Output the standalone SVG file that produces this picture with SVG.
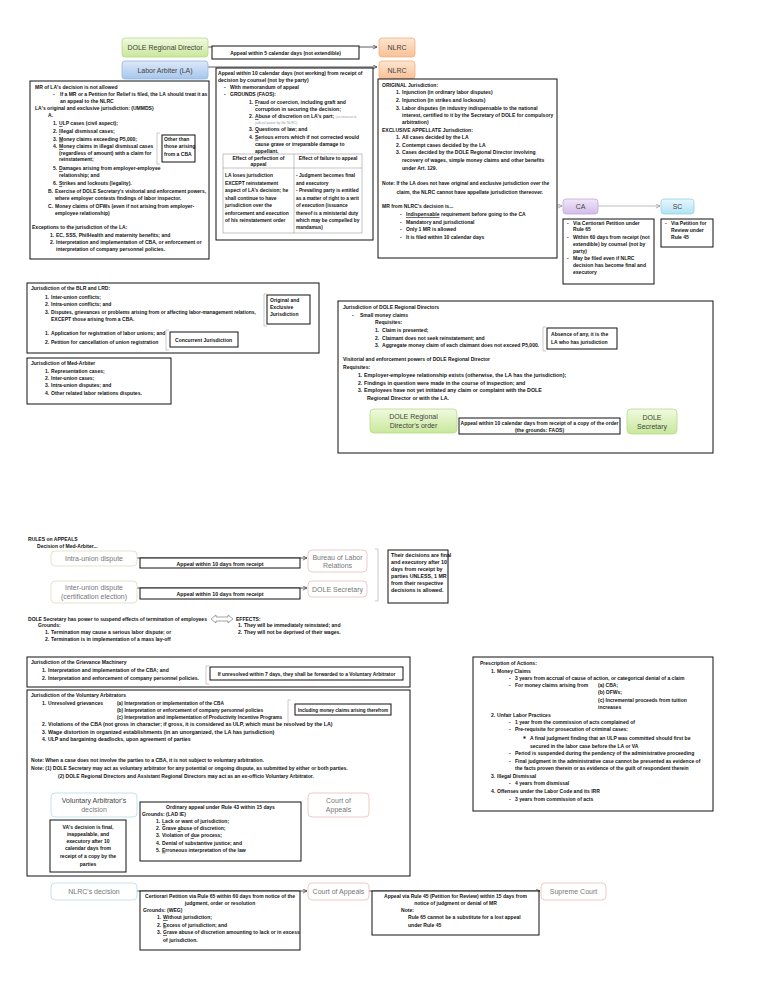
<svg xmlns="http://www.w3.org/2000/svg" width="768" height="1006" viewBox="0 0 768 1006">
<defs>
<linearGradient id="gGreen" x1="0" y1="0" x2="0" y2="1"><stop offset="0" stop-color="#f1fadf"/><stop offset="1" stop-color="#c8e79b"/></linearGradient>
<linearGradient id="gBlue" x1="0" y1="0" x2="0" y2="1"><stop offset="0" stop-color="#dde9f8"/><stop offset="1" stop-color="#a6c6ed"/></linearGradient>
<linearGradient id="gOrange" x1="0" y1="0" x2="0" y2="1"><stop offset="0" stop-color="#fde6d2"/><stop offset="1" stop-color="#f8c196"/></linearGradient>
<linearGradient id="gPurple" x1="0" y1="0" x2="0" y2="1"><stop offset="0" stop-color="#f0e7f8"/><stop offset="1" stop-color="#d2bce8"/></linearGradient>
<linearGradient id="gCyan" x1="0" y1="0" x2="0" y2="1"><stop offset="0" stop-color="#e8f7fd"/><stop offset="1" stop-color="#b2e2f4"/></linearGradient>
<marker id="ah" viewBox="0 0 6 6" refX="5.5" refY="3" markerWidth="5" markerHeight="5" markerUnits="userSpaceOnUse" orient="auto"><path d="M0.5,0.5 L5.5,3 L0.5,5.5" fill="none" stroke="#333" stroke-width="0.8"/></marker>
<marker id="ahg" viewBox="0 0 6 6" refX="5.5" refY="3" markerWidth="5" markerHeight="5" markerUnits="userSpaceOnUse" orient="auto"><path d="M0.5,0.5 L5.5,3 L0.5,5.5" fill="none" stroke="#888" stroke-width="0.8"/></marker>
<style>
.t{font-family:"Liberation Sans",Arial,sans-serif;font-size:6px;font-weight:bold;fill:#111}
.m{text-anchor:middle}
.s{font-family:"Liberation Sans",Arial,sans-serif;font-size:3.8px;font-weight:normal;fill:#9a9a9a}
.nl{font-family:"Liberation Sans",Arial,sans-serif;font-size:7px;fill:#444;text-anchor:middle}
.ng{font-family:"Liberation Sans",Arial,sans-serif;font-size:7px;fill:#777;text-anchor:middle}
.bx{fill:#fff;stroke:#111;stroke-width:1}
.tb{fill:none;stroke:#888;stroke-width:.5}
.br{fill:none;stroke:#aaa;stroke-width:.6}
.cn{fill:none;stroke:#333;stroke-width:.8;marker-end:url(#ah)}
.cg{fill:none;stroke:#aaa;stroke-width:.8;marker-end:url(#ahg)}
.ngreen{fill:url(#gGreen);stroke:#b5dc8a;stroke-width:.8}
.nblue{fill:url(#gBlue);stroke:#93b6e4;stroke-width:.8}
.norange{fill:url(#gOrange);stroke:#f2ae7c;stroke-width:.8}
.npurple{fill:url(#gPurple);stroke:#c2a8df;stroke-width:.8}
.ncyan{fill:url(#gCyan);stroke:#96d2e9;stroke-width:.8}
.wbeige{fill:#fff;stroke:#dedcc0;stroke-width:.8}
.wblue{fill:#fff;stroke:#b6dae8;stroke-width:.8}
.wpink{fill:#fff;stroke:#ebbcbc;stroke-width:.8}
</style>
</defs>
<rect width="768" height="1006" fill="#fff"/>

<!-- connectors -->
<g id="connectors">
<path class="cn" d="M208,47 L377,47"/>
<path class="cn" d="M208,67 L377,67"/>
<path class="cg" d="M458,206 L562,206"/>
<path class="cg" d="M598,206 L660,206"/>
<path class="cn" d="M457,417 L626,417"/>
<path class="cn" d="M137,558 L307,558"/>
<path class="cn" d="M137,588 L307,588"/>
<path class="cn" d="M137,802 L307,802"/>
<path class="cn" d="M137,891 L307,891"/>
<path class="cn" d="M369,891 L540,891"/>
</g>

<!-- top nodes -->
<g id="n-dole-rd"><rect class="ngreen" x="122" y="38" width="86" height="19" rx="3"/><text class="nl" x="165" y="50">DOLE Regional Director</text></g>
<g id="n-la"><rect class="nblue" x="122" y="61" width="86" height="18" rx="3"/><text class="nl" x="165" y="72.5">Labor Arbiter (LA)</text></g>
<g id="n-nlrc1"><rect class="norange" x="379" y="38" width="36" height="19" rx="3"/><text class="nl" x="397" y="50">NLRC</text></g>
<g id="n-nlrc2"><rect class="norange" x="379" y="61" width="36" height="18" rx="3"/><text class="nl" x="397" y="72.5">NLRC</text></g>
<g id="lbl-5days"><rect class="bx" x="212" y="46" width="147" height="13"/><text class="t m" transform="matrix(.84 0 0 1 285.5 55)">Appeal within 5 calendar days (not extendible)</text></g>

<!-- LA jurisdiction box -->
<g id="n-la-jurisdiction">
<rect class="bx" x="30" y="81" width="179" height="178"/>
<text class="t" transform="matrix(.84 0 0 1 35 89)">MR of LA's decision is not allowed</text>
<text class="t" transform="matrix(.84 0 0 1 53 95.5)">-</text>
<text class="t" transform="matrix(.84 0 0 1 60 95.5)">If a MR or a Petition for Relief is filed, the LA should treat it as</text>
<text class="t" transform="matrix(.84 0 0 1 60 102.5)">an appeal to the NLRC</text>
<text class="t" transform="matrix(.84 0 0 1 35 109.5)">LA's original and exclusive jurisdiction: (UMMDS)</text>
<text class="t" transform="matrix(.84 0 0 1 48 117)">A.</text>
<text class="t" transform="matrix(.84 0 0 1 53 125)">1.</text><text class="t" transform="matrix(.84 0 0 1 59 125)"><tspan text-decoration="underline">U</tspan>LP cases (civil aspect);</text>
<text class="t" transform="matrix(.84 0 0 1 53 133)">2.</text><text class="t" transform="matrix(.84 0 0 1 59 133)"><tspan text-decoration="underline">I</tspan>llegal dismissal cases;</text>
<text class="t" transform="matrix(.84 0 0 1 53 140.5)">3.</text><text class="t" transform="matrix(.84 0 0 1 59 140.5)"><tspan text-decoration="underline">M</tspan>oney claims exceeding P5,000;</text>
<text class="t" transform="matrix(.84 0 0 1 53 148)">4.</text><text class="t" transform="matrix(.84 0 0 1 59 148)"><tspan text-decoration="underline">M</tspan>oney claims in illegal dismissal cases</text>
<text class="t" transform="matrix(.84 0 0 1 59 154.5)">(regardless of amount) with a claim for</text>
<text class="t" transform="matrix(.84 0 0 1 59 161)">reinstatement;</text>
<text class="t" transform="matrix(.84 0 0 1 53 170)">5.</text><text class="t" transform="matrix(.84 0 0 1 59 170)"><tspan text-decoration="underline">D</tspan>amages arising from employer-employee</text>
<text class="t" transform="matrix(.84 0 0 1 59 177)">relationship; and</text>
<text class="t" transform="matrix(.84 0 0 1 53 185)">6.</text><text class="t" transform="matrix(.84 0 0 1 59 185)"><tspan text-decoration="underline">S</tspan>trikes and lockouts (legality).</text>
<text class="t" transform="matrix(.84 0 0 1 48 193)">B.</text><text class="t" transform="matrix(.82 0 0 1 55 193)">Exercise of DOLE Secretary's visitorial and enforcement powers,</text>
<text class="t" transform="matrix(.84 0 0 1 55 200)">where employer contests findings of labor inspector.</text>
<text class="t" transform="matrix(.84 0 0 1 48 208)">C.</text><text class="t" transform="matrix(.84 0 0 1 55 208)">Money claims of OFWs (even if not arising from employer-</text>
<text class="t" transform="matrix(.84 0 0 1 55 215)">employee relationship)</text>
<text class="t" transform="matrix(.84 0 0 1 32 229)">Exceptions to the jurisdiction of the LA:</text>
<text class="t" transform="matrix(.84 0 0 1 50 237)">1.</text><text class="t" transform="matrix(.84 0 0 1 56 237)">EC, SSS, PhilHealth and maternity benefits; and</text>
<text class="t" transform="matrix(.84 0 0 1 50 244)">2.</text><text class="t" transform="matrix(.84 0 0 1 56 244)">Interpretation and implementation of CBA, or enforcement or</text>
<text class="t" transform="matrix(.84 0 0 1 56 251)">interpretation of company personnel policies.</text>
<path class="br" d="M160,133 L157,133 L157,164 L160,164"/>
<rect class="bx" x="162" y="135" width="33" height="27"/>
<text class="t" transform="matrix(.84 0 0 1 164 141)">Other than</text>
<text class="t" transform="matrix(.84 0 0 1 164 148)">those arising</text>
<text class="t" transform="matrix(.84 0 0 1 164 155.5)">from a CBA</text>
</g>

<!-- Appeal to NLRC box -->
<g id="n-appeal-nlrc">
<rect class="bx" x="216" y="68" width="157" height="172"/>
<text class="t" transform="matrix(.84 0 0 1 218 75)">Appeal within 10 calendar days (not working) from receipt of</text>
<text class="t" transform="matrix(.84 0 0 1 218 81.5)">decision by counsel (not by the party)</text>
<text class="t" transform="matrix(.84 0 0 1 224 89)">-</text><text class="t" transform="matrix(.84 0 0 1 230 89)">With memorandum of appeal</text>
<text class="t" transform="matrix(.84 0 0 1 224 95.5)">-</text><text class="t" transform="matrix(.84 0 0 1 230 95.5)">GROUNDS (FAOS):</text>
<text class="t" transform="matrix(.84 0 0 1 249 104)">1.</text><text class="t" transform="matrix(.84 0 0 1 255 104)"><tspan text-decoration="underline">F</tspan>raud or coercion, including graft and</text>
<text class="t" transform="matrix(.84 0 0 1 255 110.5)">corruption in securing the decision;</text>
<text class="t" transform="matrix(.84 0 0 1 249 118)">2.</text><text class="t" transform="matrix(.84 0 0 1 255 118)"><tspan text-decoration="underline">A</tspan>buse of discretion on LA's part; <tspan class="s">(an exercise of</tspan></text>
<text class="s" transform="matrix(.9 0 0 1 255 124)">judicial power by the NLRC)</text>
<text class="t" transform="matrix(.84 0 0 1 249 131.3)">3.</text><text class="t" transform="matrix(.84 0 0 1 255 131.3)"><tspan text-decoration="underline">Q</tspan>uestions of law; and</text>
<text class="t" transform="matrix(.84 0 0 1 249 138.7)">4.</text><text class="t" transform="matrix(.84 0 0 1 255 138.7)"><tspan text-decoration="underline">S</tspan>erious errors which if not corrected would</text>
<text class="t" transform="matrix(.84 0 0 1 255 146)">cause grave or irreparable damage to</text>
<text class="t" transform="matrix(.84 0 0 1 255 152.5)">appellant.</text>
<rect class="tb" x="223" y="154" width="139" height="79"/>
<path class="tb" d="M294,154 L294,233 M223,168 L362,168"/>
<text class="t m" transform="matrix(.84 0 0 1 258.5 160)">Effect of perfection of</text>
<text class="t m" transform="matrix(.84 0 0 1 258.5 166)">appeal</text>
<text class="t m" transform="matrix(.82 0 0 1 328 160)">Effect of failure to appeal</text>
<text class="t" transform="matrix(.82 0 0 1 225 177)">LA loses jurisdiction</text>
<text class="t" transform="matrix(.82 0 0 1 225 184.5)">EXCEPT reinstatement</text>
<text class="t" transform="matrix(.82 0 0 1 225 192)">aspect of LA's decision; he</text>
<text class="t" transform="matrix(.82 0 0 1 225 199.5)">shall continue to have</text>
<text class="t" transform="matrix(.82 0 0 1 225 207)">jurisdiction over the</text>
<text class="t" transform="matrix(.82 0 0 1 225 214.5)">enforcement and execution</text>
<text class="t" transform="matrix(.82 0 0 1 225 221.5)">of his reinstatement order</text>
<text class="t" transform="matrix(.8 0 0 1 296 177)">- Judgment becomes final</text>
<text class="t" transform="matrix(.8 0 0 1 296 184.5)">and executory</text>
<text class="t" transform="matrix(.8 0 0 1 296 192)">- Prevailing party is entitled</text>
<text class="t" transform="matrix(.8 0 0 1 296 199.5)">as a matter of right to a writ</text>
<text class="t" transform="matrix(.8 0 0 1 296 207)">of execution (issuance</text>
<text class="t" transform="matrix(.8 0 0 1 296 214.5)">thereof is a ministerial duty</text>
<text class="t" transform="matrix(.8 0 0 1 296 221.5)">which may be compelled by</text>
<text class="t" transform="matrix(.8 0 0 1 296 229)">mandamus)</text>
</g>

<!-- NLRC jurisdiction box -->
<g id="n-nlrc-jurisdiction">
<rect class="bx" x="378" y="79" width="179" height="179"/>
<text class="t" transform="matrix(.84 0 0 1 382 87)">ORIGINAL Jurisdiction:</text>
<text class="t" transform="matrix(.84 0 0 1 396 94)">1.</text><text class="t" transform="matrix(.84 0 0 1 402 94)">Injunction (in ordinary labor disputes)</text>
<text class="t" transform="matrix(.84 0 0 1 396 102)">2.</text><text class="t" transform="matrix(.84 0 0 1 402 102)">Injunction (in strikes and lockouts)</text>
<text class="t" transform="matrix(.84 0 0 1 396 110)">3.</text><text class="t" transform="matrix(.84 0 0 1 402 110)">Labor disputes (in industry indispensable to the national</text>
<text class="t" transform="matrix(.84 0 0 1 402 117)">interest, certified to it by the Secretary of DOLE for compulsory</text>
<text class="t" transform="matrix(.84 0 0 1 402 124)">arbitration)</text>
<text class="t" transform="matrix(.84 0 0 1 382 132)">EXCLUSIVE APPELLATE Jurisdiction:</text>
<text class="t" transform="matrix(.84 0 0 1 396 139)">1.</text><text class="t" transform="matrix(.84 0 0 1 402 139)">All cases decided by the LA</text>
<text class="t" transform="matrix(.84 0 0 1 396 146.5)">2.</text><text class="t" transform="matrix(.84 0 0 1 402 146.5)">Contempt cases decided by the LA</text>
<text class="t" transform="matrix(.84 0 0 1 396 154)">3.</text><text class="t" transform="matrix(.84 0 0 1 402 154)">Cases decided by the DOLE Regional Director involving</text>
<text class="t" transform="matrix(.84 0 0 1 402 162)">recovery of wages, simple money claims and other benefits</text>
<text class="t" transform="matrix(.84 0 0 1 402 170)">under Art. 129.</text>
<text class="t" transform="matrix(.84 0 0 1 382 185)">Note:</text><text class="t" transform="matrix(.81 0 0 1 396.5 185)">If the LA does not have original and exclusive jurisdiction over the</text>
<text class="t" transform="matrix(.84 0 0 1 396.5 194)">claim, the NLRC cannot have appellate jurisdiction thereover.</text>
<text class="t" transform="matrix(.84 0 0 1 382 208)">MR from NLRC's decision is...</text>
<text class="t" transform="matrix(.84 0 0 1 400 216)">-</text><text class="t" transform="matrix(.84 0 0 1 406 216)"><tspan text-decoration="underline">Indispensable</tspan> requirement before going to the CA</text>
<text class="t" transform="matrix(.84 0 0 1 400 224)">-</text><text class="t" transform="matrix(.84 0 0 1 406 224)">Mandatory and jurisdictional</text>
<text class="t" transform="matrix(.84 0 0 1 400 231)">-</text><text class="t" transform="matrix(.84 0 0 1 406 231)">Only 1 MR is allowed</text>
<text class="t" transform="matrix(.84 0 0 1 400 239)">-</text><text class="t" transform="matrix(.84 0 0 1 406 239)">It is filed within 10 calendar days</text>
</g>

<g id="n-ca"><rect class="npurple" x="563" y="199" width="35" height="15" rx="3"/><text class="nl" x="580.5" y="209">CA</text></g>
<g id="n-sc"><rect class="ncyan" x="661" y="199" width="33" height="15" rx="3"/><text class="nl" x="677.5" y="209">SC</text></g>
<g id="n-ca-notes">
<rect class="bx" x="563" y="219" width="91" height="65"/>
<text class="t" transform="matrix(.84 0 0 1 567 224.5)">-</text><text class="t" transform="matrix(.84 0 0 1 573 224.5)">Via Certiorari Petition under</text>
<text class="t" transform="matrix(.84 0 0 1 573 231)">Rule 65</text>
<text class="t" transform="matrix(.84 0 0 1 567 239)">-</text><text class="t" transform="matrix(.84 0 0 1 573 239)">Within 60 days from receipt (not</text>
<text class="t" transform="matrix(.84 0 0 1 573 246)">extendible) by counsel (not by</text>
<text class="t" transform="matrix(.84 0 0 1 573 252.5)">party)</text>
<text class="t" transform="matrix(.84 0 0 1 567 260)">-</text><text class="t" transform="matrix(.84 0 0 1 573 260)">May be filed even if NLRC</text>
<text class="t" transform="matrix(.84 0 0 1 573 267)">decision has become final and</text>
<text class="t" transform="matrix(.84 0 0 1 573 274)">executory</text>
</g>
<g id="n-sc-notes">
<rect class="bx" x="661" y="219" width="52" height="28"/>
<text class="t" transform="matrix(.84 0 0 1 665 224.5)">-</text><text class="t" transform="matrix(.84 0 0 1 671 224.5)">Via Petition for</text>
<text class="t" transform="matrix(.84 0 0 1 671 231.5)">Review under</text>
<text class="t" transform="matrix(.84 0 0 1 671 239)">Rule 45</text>
</g>

<!-- BLR and LRD -->
<g id="n-blr-lrd">
<rect class="bx" x="27" y="283" width="292" height="70"/>
<text class="t" transform="matrix(.84 0 0 1 31 290)">Jurisdiction of the BLR and LRD:</text>
<text class="t" transform="matrix(.84 0 0 1 45 299)">1.</text><text class="t" transform="matrix(.84 0 0 1 51 299)">Inter-union conflicts;</text>
<text class="t" transform="matrix(.84 0 0 1 45 306)">2.</text><text class="t" transform="matrix(.84 0 0 1 51 306)">Intra-union conflicts; and</text>
<text class="t" transform="matrix(.84 0 0 1 45 313.5)">3.</text><text class="t" transform="matrix(.82 0 0 1 51 313.5)">Disputes, grievances or problems arising from or affecting labor-management relations,</text>
<text class="t" transform="matrix(.84 0 0 1 51 320.5)">EXCEPT those arising from a CBA.</text>
<text class="t" transform="matrix(.84 0 0 1 45 335)">1.</text><text class="t" transform="matrix(.84 0 0 1 51 335)">Application for registration of labor unions; and</text>
<text class="t" transform="matrix(.84 0 0 1 45 343.5)">2.</text><text class="t" transform="matrix(.84 0 0 1 51 343.5)">Petition for cancellation of union registration</text>
<path class="br" d="M267,294 L264,294 L264,326 L267,326"/>
<rect class="bx" x="267" y="295" width="43" height="29"/>
<text class="t" transform="matrix(.84 0 0 1 270 301.5)">Original and</text>
<text class="t" transform="matrix(.84 0 0 1 270 308.5)">Exclusive</text>
<text class="t" transform="matrix(.84 0 0 1 270 315.5)">Jurisdiction</text>
<path class="br" d="M169,330 L166,330 L166,350 L169,350"/>
<rect class="bx" x="170" y="332" width="68" height="15"/>
<text class="t" transform="matrix(.84 0 0 1 175 342)">Concurrent Jurisdiction</text>
</g>

<!-- Med-Arbiter -->
<g id="n-med-arbiter">
<rect class="bx" x="27" y="358" width="144" height="46"/>
<text class="t" transform="matrix(.84 0 0 1 31 365)">Jurisdiction of Med-Arbiter</text>
<text class="t" transform="matrix(.84 0 0 1 45 373)">1.</text><text class="t" transform="matrix(.84 0 0 1 51 373)">Representation cases;</text>
<text class="t" transform="matrix(.84 0 0 1 45 380)">2.</text><text class="t" transform="matrix(.84 0 0 1 51 380)">Inter-union cases;</text>
<text class="t" transform="matrix(.84 0 0 1 45 387)">3.</text><text class="t" transform="matrix(.84 0 0 1 51 387)">Intra-union disputes; and</text>
<text class="t" transform="matrix(.84 0 0 1 45 395)">4.</text><text class="t" transform="matrix(.84 0 0 1 51 395)">Other related labor relations disputes.</text>
</g>

<!-- DOLE Regional Directors -->
<g id="n-dole-rd-jurisdiction">
<rect class="bx" x="338" y="301" width="375" height="152"/>
<text class="t" transform="matrix(.84 0 0 1 343 309)">Jurisdiction of DOLE Regional Directors</text>
<text class="t" transform="matrix(.84 0 0 1 352 316.5)">-</text><text class="t" transform="matrix(.84 0 0 1 360 316.5)">Small money claims</text>
<text class="t" transform="matrix(.84 0 0 1 375 324)">Requisites:</text>
<text class="t" transform="matrix(.84 0 0 1 375 332)">1.</text><text class="t" transform="matrix(.84 0 0 1 382 332)">Claim is presented;</text>
<text class="t" transform="matrix(.84 0 0 1 375 339.5)">2.</text><text class="t" transform="matrix(.84 0 0 1 382 339.5)">Claimant does not seek reinstatement; and</text>
<text class="t" transform="matrix(.84 0 0 1 375 347)">3.</text><text class="t" transform="matrix(.84 0 0 1 382 347)">Aggregate money claim of each claimant does not exceed P5,000.</text>
<path class="br" d="M546,327 L543,327 L543,351 L546,351"/>
<rect class="bx" x="547" y="328" width="70" height="21"/>
<text class="t" transform="matrix(.84 0 0 1 551 336)">Absence of any, it is the</text>
<text class="t" transform="matrix(.84 0 0 1 551 343.5)">LA who has jurisdiction</text>
<text class="t" transform="matrix(.84 0 0 1 343 361)">Visitorial and enforcement powers of DOLE Regional Director</text>
<text class="t" transform="matrix(.84 0 0 1 343 369)">Requisites:</text>
<text class="t" transform="matrix(.84 0 0 1 358 377)">1.</text><text class="t" transform="matrix(.9 0 0 1 364 377)">Employer-employee relationship exists (otherwise, the LA has the jurisdiction);</text>
<text class="t" transform="matrix(.84 0 0 1 358 385)">2.</text><text class="t" transform="matrix(.88 0 0 1 364 385)">Findings in question were made in the course of inspection; and</text>
<text class="t" transform="matrix(.84 0 0 1 358 392)">3.</text><text class="t" transform="matrix(.88 0 0 1 364 392)">Employees have not yet initiated any claim or complaint with the DOLE</text>
<text class="t" transform="matrix(.88 0 0 1 367 399.5)">Regional Director or with the LA.</text>
</g>
<g id="n-dole-rd-order"><rect class="ngreen" x="370" y="409" width="87" height="24" rx="4"/><text class="nl" x="413.5" y="419">DOLE Regional</text><text class="nl" x="413.5" y="428">Director's order</text></g>
<g id="lbl-rd-order"><rect class="bx" x="459" y="418" width="161" height="16"/>
<text class="t m" transform="matrix(.84 0 0 1 539.5 424.5)">Appeal within 10 calendar days from receipt of a copy of the order</text>
<text class="t m" transform="matrix(.84 0 0 1 539.5 431.5)">(the grounds: FAOS)</text></g>
<g id="n-dole-sec1"><rect class="ngreen" x="627" y="409" width="50" height="25" rx="4"/><text class="nl" x="652" y="419.5">DOLE</text><text class="nl" x="652" y="428.5">Secretary</text></g>

<!-- RULES on APPEALS -->
<g id="rules-heading">
<text class="t" transform="matrix(.84 0 0 1 28 541)">RULES on APPEALS</text>
<text class="t" transform="matrix(.84 0 0 1 37 548)">Decision of Med-Arbiter...</text>
</g>
<g id="n-intra"><rect class="wbeige" x="51" y="551" width="86" height="15" rx="4"/><text class="ng" x="94" y="561">Intra-union dispute</text></g>
<g id="lbl-intra"><rect class="bx" x="140" y="558" width="160" height="10"/><text class="t m" transform="matrix(.88 0 0 1 220 565.5)">Appeal within 10 days from receipt</text></g>
<g id="n-blr"><rect class="wpink" x="308" y="550" width="59" height="22" rx="4"/><text class="ng" x="337.5" y="559.5">Bureau of Labor</text><text class="ng" x="337.5" y="567.5">Relations</text></g>
<g id="n-inter"><rect class="wbeige" x="51" y="581" width="86" height="22" rx="4"/><text class="ng" x="94" y="590">Inter-union dispute</text><text class="ng" x="94" y="598.5">(certification election)</text></g>
<g id="lbl-inter"><rect class="bx" x="140" y="588" width="160" height="11"/><text class="t m" transform="matrix(.88 0 0 1 220 595.5)">Appeal within 10 days from receipt</text></g>
<g id="n-dole-sec2"><rect class="wpink" x="308" y="581" width="59" height="16" rx="4"/><text class="ng" x="337.5" y="591.5">DOLE Secretary</text></g>
<g id="n-their-decisions">
<path class="br" d="M375,549 L378,549 L378,601 L375,601"/>
<rect class="bx" x="388" y="550" width="60" height="53"/>
<text class="t" transform="matrix(.88 0 0 1 391 557)">Their decisions are final</text>
<text class="t" transform="matrix(.88 0 0 1 391 564)">and executory after 10</text>
<text class="t" transform="matrix(.88 0 0 1 391 571)">days from receipt by</text>
<text class="t" transform="matrix(.88 0 0 1 391 578)">parties UNLESS, 1 MR</text>
<text class="t" transform="matrix(.88 0 0 1 391 585)">from their respective</text>
<text class="t" transform="matrix(.88 0 0 1 391 592)">decisions is allowed.</text>
</g>

<g id="n-suspend">
<text class="t" transform="matrix(.84 0 0 1 28 621)">DOLE Secretary has power to suspend effects of termination of employees</text>
<path d="M211,619 L216,615 L216,617 L228,617 L228,615 L233,619 L228,623 L228,621 L216,621 L216,623 Z" fill="#fff" stroke="#666" stroke-width=".6"/>
<text class="t" transform="matrix(.84 0 0 1 236 621)">EFFECTS:</text>
<text class="t" transform="matrix(.84 0 0 1 38 627)">Grounds:</text>
<text class="t" transform="matrix(.84 0 0 1 45 633.5)">1.</text><text class="t" transform="matrix(.84 0 0 1 51 633.5)">Termination may cause a serious labor dispute; or</text>
<text class="t" transform="matrix(.84 0 0 1 45 640.5)">2.</text><text class="t" transform="matrix(.84 0 0 1 51 640.5)">Termination is in implementation of a mass lay-off</text>
<text class="t" transform="matrix(.84 0 0 1 238 627)">1.</text><text class="t" transform="matrix(.84 0 0 1 244 627)">They will be immediately reinstated; and</text>
<text class="t" transform="matrix(.84 0 0 1 238 634)">2.</text><text class="t" transform="matrix(.84 0 0 1 244 634)">They will not be deprived of their wages.</text>
</g>

<!-- Grievance machinery -->
<g id="n-grievance">
<rect class="bx" x="27" y="657" width="383" height="30"/>
<text class="t" transform="matrix(.84 0 0 1 31 664)">Jurisdiction of the Grievance Machinery</text>
<text class="t" transform="matrix(.84 0 0 1 42 672)">1.</text><text class="t" transform="matrix(.84 0 0 1 48 672)">Interpretation and implementation of the CBA; and</text>
<text class="t" transform="matrix(.84 0 0 1 42 679.5)">2.</text><text class="t" transform="matrix(.84 0 0 1 48 679.5)">Interpretation and enforcement of company personnel policies.</text>
<path class="br" d="M209,666 L206,666 L206,684 L209,684"/>
<rect class="bx" x="210" y="667" width="193" height="13"/>
<text class="t m" transform="matrix(.82 0 0 1 306.5 675.5)">If unresolved within 7 days, they shall be forwarded to a Voluntary Arbitrator</text>
</g>

<!-- Voluntary Arbitrators -->
<g id="n-va-jurisdiction">
<rect class="bx" x="27" y="690" width="383" height="186"/>
<text class="t" transform="matrix(.84 0 0 1 31 697)">Jurisdiction of the Voluntary Arbitrators</text>
<text class="t" transform="matrix(.84 0 0 1 42 704.5)">1.</text><text class="t" transform="matrix(.84 0 0 1 48 704.5)">Unresolved grievances</text>
<text class="t" transform="matrix(.8 0 0 1 117 704.5)">(a) Interpretation or implementation of the CBA</text>
<text class="t" transform="matrix(.8 0 0 1 117 712)">(b) Interpretation or enforcement of company personnel policies</text>
<text class="t" transform="matrix(.8 0 0 1 117 719)">(c) Interpretation and implementation of Productivity Incentive Programs</text>
<text class="t" transform="matrix(.84 0 0 1 42 726)">2.</text>
<text class="t" transform="matrix(.88 0 0 1 48 726)">Violations of the CBA (not gross in character; if gross, it is considered as ULP, which must be resolved by the LA)</text>
<text class="t" transform="matrix(.84 0 0 1 42 733.5)">3.</text><text class="t" transform="matrix(.9 0 0 1 48 733.5)">Wage distortion in organized establishments (in an unorganized, the LA has jurisdiction)</text>
<text class="t" transform="matrix(.84 0 0 1 42 741)">4.</text><text class="t" transform="matrix(.86 0 0 1 48 741)">ULP and bargaining deadlocks, upon agreement of parties</text>
<text class="t" transform="matrix(.84 0 0 1 31 762)">Note: When a case does not involve the parties to a CBA, it is not subject to voluntary arbitration.</text>
<text class="t" transform="matrix(.84 0 0 1 31 770)">Note: (1) DOLE Secretary may act as voluntary arbitrator for any potential or ongoing dispute, as submitted by either or both parties.</text>
<text class="t" transform="matrix(.84 0 0 1 58 777.5)">(2) DOLE Regional Directors and Assistant Regional Directors may act as an ex-officio Voluntary Arbitrator.</text>
<path class="br" d="M291,700 L288,700 L288,725 L291,725"/>
<rect class="bx" x="295" y="704" width="96" height="11"/>
<text class="t m" transform="matrix(.76 0 0 1 343 711.5)">Including money claims arising therefrom</text>
</g>
<g id="n-va-decision"><rect class="wblue" x="51" y="793" width="86" height="24" rx="4"/><text class="nl" x="94" y="803">Voluntary Arbitrator's</text><text class="ng" x="94" y="812">decision</text></g>
<g id="lbl-va"><rect class="bx" x="140" y="802" width="161" height="59"/>
<text class="t m" transform="matrix(.84 0 0 1 220.5 809)">Ordinary appeal under Rule 43 within 15 days</text>
<text class="t" transform="matrix(.84 0 0 1 142 815.5)">Grounds: (LAD IE)</text>
<text class="t" transform="matrix(.84 0 0 1 156 823)">1.</text><text class="t" transform="matrix(.84 0 0 1 162 823)"><tspan text-decoration="underline">L</tspan>ack or want of jurisdiction;</text>
<text class="t" transform="matrix(.84 0 0 1 156 830)">2.</text><text class="t" transform="matrix(.84 0 0 1 162 830)">Grave <tspan text-decoration="underline">a</tspan>buse of discretion;</text>
<text class="t" transform="matrix(.84 0 0 1 156 837)">3.</text><text class="t" transform="matrix(.84 0 0 1 162 837)">Violation of <tspan text-decoration="underline">d</tspan>ue process;</text>
<text class="t" transform="matrix(.84 0 0 1 156 844.5)">4.</text><text class="t" transform="matrix(.84 0 0 1 162 844.5)">Denial of substantive justice; and</text>
<text class="t" transform="matrix(.84 0 0 1 156 851.5)">5.</text><text class="t" transform="matrix(.84 0 0 1 162 851.5)"><tspan text-decoration="underline">E</tspan>rroneous interpretation of the law</text>
</g>
<g id="n-ca2"><rect class="wpink" x="308" y="793" width="61" height="24" rx="4"/><text class="ng" x="338.5" y="803">Court of</text><text class="ng" x="338.5" y="812">Appeals</text></g>
<g id="n-va-final">
<rect class="bx" x="50" y="820" width="76" height="52"/>
<text class="t m" transform="matrix(.84 0 0 1 88 828.5)">VA's decision is final,</text>
<text class="t m" transform="matrix(.84 0 0 1 88 835.5)">inappealable, and</text>
<text class="t m" transform="matrix(.84 0 0 1 88 843)">executory after 10</text>
<text class="t m" transform="matrix(.84 0 0 1 88 850)">calendar days from</text>
<text class="t m" transform="matrix(.84 0 0 1 88 858)">receipt of a copy by the</text>
<text class="t m" transform="matrix(.84 0 0 1 88 865.5)">parties</text>
</g>

<!-- Prescription -->
<g id="n-prescription">
<rect class="bx" x="473" y="657" width="240" height="154"/>
<text class="t" transform="matrix(.84 0 0 1 480 665)">Prescription of Actions:</text>
<text class="t" transform="matrix(.84 0 0 1 491 672.5)">1.</text><text class="t" transform="matrix(.84 0 0 1 497 672.5)">Money Claims</text>
<text class="t" transform="matrix(.84 0 0 1 509 680)">-</text><text class="t" transform="matrix(.84 0 0 1 515 680)">3 years from accrual of cause of action, or categorical denial of a claim</text>
<text class="t" transform="matrix(.84 0 0 1 509 687)">-</text><text class="t" transform="matrix(.84 0 0 1 515 687)">For money claims arising from</text>
<text class="t" transform="matrix(.84 0 0 1 598 687)">(a) CBA;</text>
<text class="t" transform="matrix(.84 0 0 1 598 694)">(b) OFWs;</text>
<text class="t" transform="matrix(.84 0 0 1 598 701.5)">(c) Incremental proceeds from tuition</text>
<text class="t" transform="matrix(.84 0 0 1 598 709)">increases</text>
<text class="t" transform="matrix(.84 0 0 1 491 716.5)">2.</text><text class="t" transform="matrix(.84 0 0 1 497 716.5)">Unfair Labor Practices</text>
<text class="t" transform="matrix(.84 0 0 1 509 724)">-</text><text class="t" transform="matrix(.84 0 0 1 515 724)">1 year from the commission of acts complained of</text>
<text class="t" transform="matrix(.84 0 0 1 509 731)">-</text><text class="t" transform="matrix(.84 0 0 1 515 731)">Pre-requisite for prosecution of criminal cases:</text>
<rect x="523.5" y="736.5" width="2" height="2" fill="#111"/>
<text class="t" transform="matrix(.84 0 0 1 530 740)">A final judgment finding that an ULP was committed should first be</text>
<text class="t" transform="matrix(.84 0 0 1 530 748)">secured in the labor case before the LA or VA</text>
<text class="t" transform="matrix(.84 0 0 1 509 755)">-</text><text class="t" transform="matrix(.84 0 0 1 515 755)">Period is suspended during the pendency of the administrative proceeding</text>
<text class="t" transform="matrix(.84 0 0 1 509 762.5)">-</text><text class="t" transform="matrix(.84 0 0 1 515 762.5)">Final judgment in the administrative case cannot be presented as evidence of</text>
<text class="t" transform="matrix(.84 0 0 1 515 770)">the facts proven therein or as evidence of the guilt of respondent therein</text>
<text class="t" transform="matrix(.84 0 0 1 491 777.5)">3.</text><text class="t" transform="matrix(.84 0 0 1 497 777.5)">Illegal Dismissal</text>
<text class="t" transform="matrix(.84 0 0 1 509 785)">-</text><text class="t" transform="matrix(.84 0 0 1 515 785)">4 years from dismissal</text>
<text class="t" transform="matrix(.84 0 0 1 491 793)">4.</text><text class="t" transform="matrix(.84 0 0 1 497 793)">Offenses under the Labor Code and its IRR</text>
<text class="t" transform="matrix(.84 0 0 1 509 800.5)">-</text><text class="t" transform="matrix(.84 0 0 1 515 800.5)">3 years from commission of acts</text>
</g>

<!-- bottom chain -->
<g id="n-nlrc-decision"><rect class="wblue" x="51" y="883" width="86" height="17" rx="4"/><text class="ng" x="94" y="894">NLRC's decision</text></g>
<g id="lbl-rule65"><rect class="bx" x="140" y="891" width="160" height="59"/>
<text class="t m" transform="matrix(.84 0 0 1 220 897.5)">Certiorari Petition via Rule 65 within 60 days from notice of the</text>
<text class="t m" transform="matrix(.84 0 0 1 220 904.5)">judgment, order or resolution</text>
<text class="t" transform="matrix(.84 0 0 1 143 911.5)">Grounds: (WEG)</text>
<text class="t" transform="matrix(.84 0 0 1 157 919)">1.</text><text class="t" transform="matrix(.84 0 0 1 163 919)"><tspan text-decoration="underline">W</tspan>ithout jurisdiction;</text>
<text class="t" transform="matrix(.84 0 0 1 157 926.5)">2.</text><text class="t" transform="matrix(.84 0 0 1 163 926.5)"><tspan text-decoration="underline">E</tspan>xcess of jurisdiction; and</text>
<text class="t" transform="matrix(.84 0 0 1 157 934)">3.</text><text class="t" transform="matrix(.84 0 0 1 163 934)"><tspan text-decoration="underline">G</tspan>rave abuse of discretion amounting to lack or in excess</text>
<text class="t" transform="matrix(.84 0 0 1 163 941.5)">of jurisdiction.</text>
</g>
<g id="n-ca3"><rect class="wpink" x="308" y="883" width="61" height="17" rx="4"/><text class="ng" x="338.5" y="894">Court of Appeals</text></g>
<g id="lbl-rule45"><rect class="bx" x="372" y="891" width="167" height="44"/>
<text class="t m" transform="matrix(.84 0 0 1 455.5 897.5)">Appeal via Rule 45 (Petition for Review) within 15 days from</text>
<text class="t m" transform="matrix(.84 0 0 1 455.5 904.5)">notice of judgment or denial of MR</text>
<text class="t" transform="matrix(.84 0 0 1 401 911.5)">Note:</text>
<text class="t" transform="matrix(.84 0 0 1 408 919)">Rule 65 cannot be a substitute for a lost appeal</text>
<text class="t" transform="matrix(.84 0 0 1 408 926.5)">under Rule 45</text>
</g>
<g id="n-supreme"><rect class="wpink" x="541" y="883" width="65" height="17" rx="4"/><text class="ng" x="573.5" y="894">Supreme Court</text></g>
</svg>
